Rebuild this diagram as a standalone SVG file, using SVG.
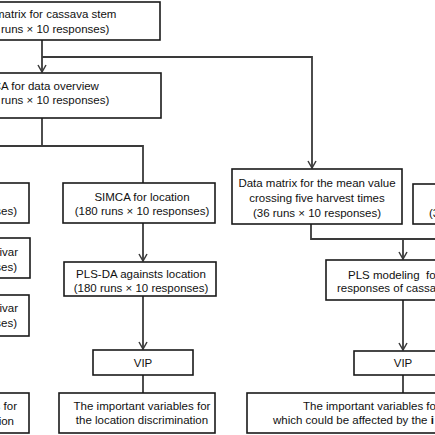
<svg xmlns="http://www.w3.org/2000/svg" width="435" height="435" viewBox="0 0 435 435">
<style>
.box{fill:#fff;stroke:#1a1a1a;stroke-width:1.6}
.t{font-family:"Liberation Sans",Arial,sans-serif;font-size:11.5px;fill:#111;text-anchor:middle;white-space:pre}
.s{text-anchor:start}
.e{text-anchor:end}
.c{fill:none;stroke:#3a3a3a;stroke-width:1.8}
</style>
<defs>
<marker id="ah" viewBox="-9 -6 11 12" refX="0" refY="0" markerWidth="11" markerHeight="12" markerUnits="userSpaceOnUse" orient="auto">
<path d="M-7,-4 L0,0 L-7,4" fill="none" stroke="#3a3a3a" stroke-width="1.5"/>
</marker>
</defs>
<rect width="435" height="435" fill="#fff"/>
<g id="connectors">
<path class="c" d="M42,40 V72" marker-end="url(#ah)"/>
<path class="c" d="M42,57 H312 V168" marker-end="url(#ah)"/>
<path class="c" d="M42,118 V146"/>
<path class="c" d="M-5,146 H143 V183"/>
<path class="c" d="M143,223 V261" marker-end="url(#ah)"/>
<path class="c" d="M143,296 V349" marker-end="url(#ah)"/>
<path class="c" d="M143,375 V393"/>
<path class="c" d="M311,224 V239 H440"/>
<path class="c" d="M403,239 V259" marker-end="url(#ah)"/>
<path class="c" d="M403,300 V350" marker-end="url(#ah)"/>
<path class="c" d="M403,375 V393"/>
</g>
<g id="n-top">
<rect class="box" x="-80" y="2" width="240" height="38"/>
<text class="t" x="42" y="18">Data matrix for cassava stem</text>
<text class="t" x="42" y="33">(180 runs × 10 responses)</text>
</g>
<g id="n-pca">
<rect class="box" x="-80" y="73" width="241" height="45"/>
<text class="t" x="42" y="90">PCA for data overview</text>
<text class="t" x="42" y="104">(180 runs × 10 responses)</text>
</g>
<g id="n-left1">
<rect class="box" x="-100" y="183" width="129" height="40"/>
<text class="t e" x="17" y="215">(180 runs × 10 responses)</text>
</g>
<g id="n-left2">
<rect class="box" x="-100" y="238" width="130" height="40"/>
<text class="t e" x="18" y="256">SIMCA for cultivar</text>
<text class="t e" x="17" y="271">(180 runs × 10 responses)</text>
</g>
<g id="n-left3">
<rect class="box" x="-100" y="295" width="129" height="41"/>
<text class="t e" x="18" y="312">PLS-DA against cultivar</text>
<text class="t e" x="17" y="327">(180 runs × 10 responses)</text>
</g>
<g id="n-left4">
<rect class="box" x="-100" y="393" width="129" height="40"/>
<text class="t e" x="17" y="410">The important variables for</text>
<text class="t e" x="14" y="425">the cultivar discrimination</text>
</g>
<g id="n-simca">
<rect class="box" x="63" y="183" width="152" height="40"/>
<text class="t" x="142" y="201">SIMCA for location</text>
<text class="t" x="142" y="215">(180 runs × 10 responses)</text>
</g>
<g id="n-plsda">
<rect class="box" x="64" y="262" width="152" height="34"/>
<text class="t" x="141" y="278">PLS-DA againsts location</text>
<text class="t" x="141" y="292">(180 runs × 10 responses)</text>
</g>
<g id="n-vip1">
<rect class="box" x="93" y="350" width="100" height="25"/>
<text class="t" x="143" y="367">VIP</text>
</g>
<g id="n-imp1">
<rect class="box" x="59" y="393" width="156" height="40"/>
<text class="t" x="142" y="410">The important variables for</text>
<text class="t" x="142" y="424">the location discrimination</text>
</g>
<g id="n-mean">
<rect class="box" x="232" y="169" width="170" height="55"/>
<text class="t" x="317" y="187">Data matrix for the mean value</text>
<text class="t" x="317" y="202">crossing five harvest times</text>
<text class="t" x="317" y="217">(36 runs × 10 responses)</text>
</g>
<g id="n-right">
<rect class="box" x="413" y="184" width="100" height="40"/>
<text class="t s" x="429" y="217">(36 runs × 10 responses)</text>
</g>
<g id="n-plsmod">
<rect class="box" x="326" y="260" width="200" height="40"/>
<text class="t s" x="348" y="279">PLS modeling  for</text>
<text class="t s" x="337" y="292">responses of cassava</text>
</g>
<g id="n-vip2">
<rect class="box" x="354" y="351" width="100" height="24"/>
<text class="t" x="403" y="367">VIP</text>
</g>
<g id="n-imp2">
<rect class="box" x="247" y="393" width="250" height="40"/>
<text class="t s" x="303" y="410">The important variables for</text>
<text class="t s" x="273" y="424">which could be affected by the <tspan font-weight="bold">i</tspan></text>
</g>
</svg>
